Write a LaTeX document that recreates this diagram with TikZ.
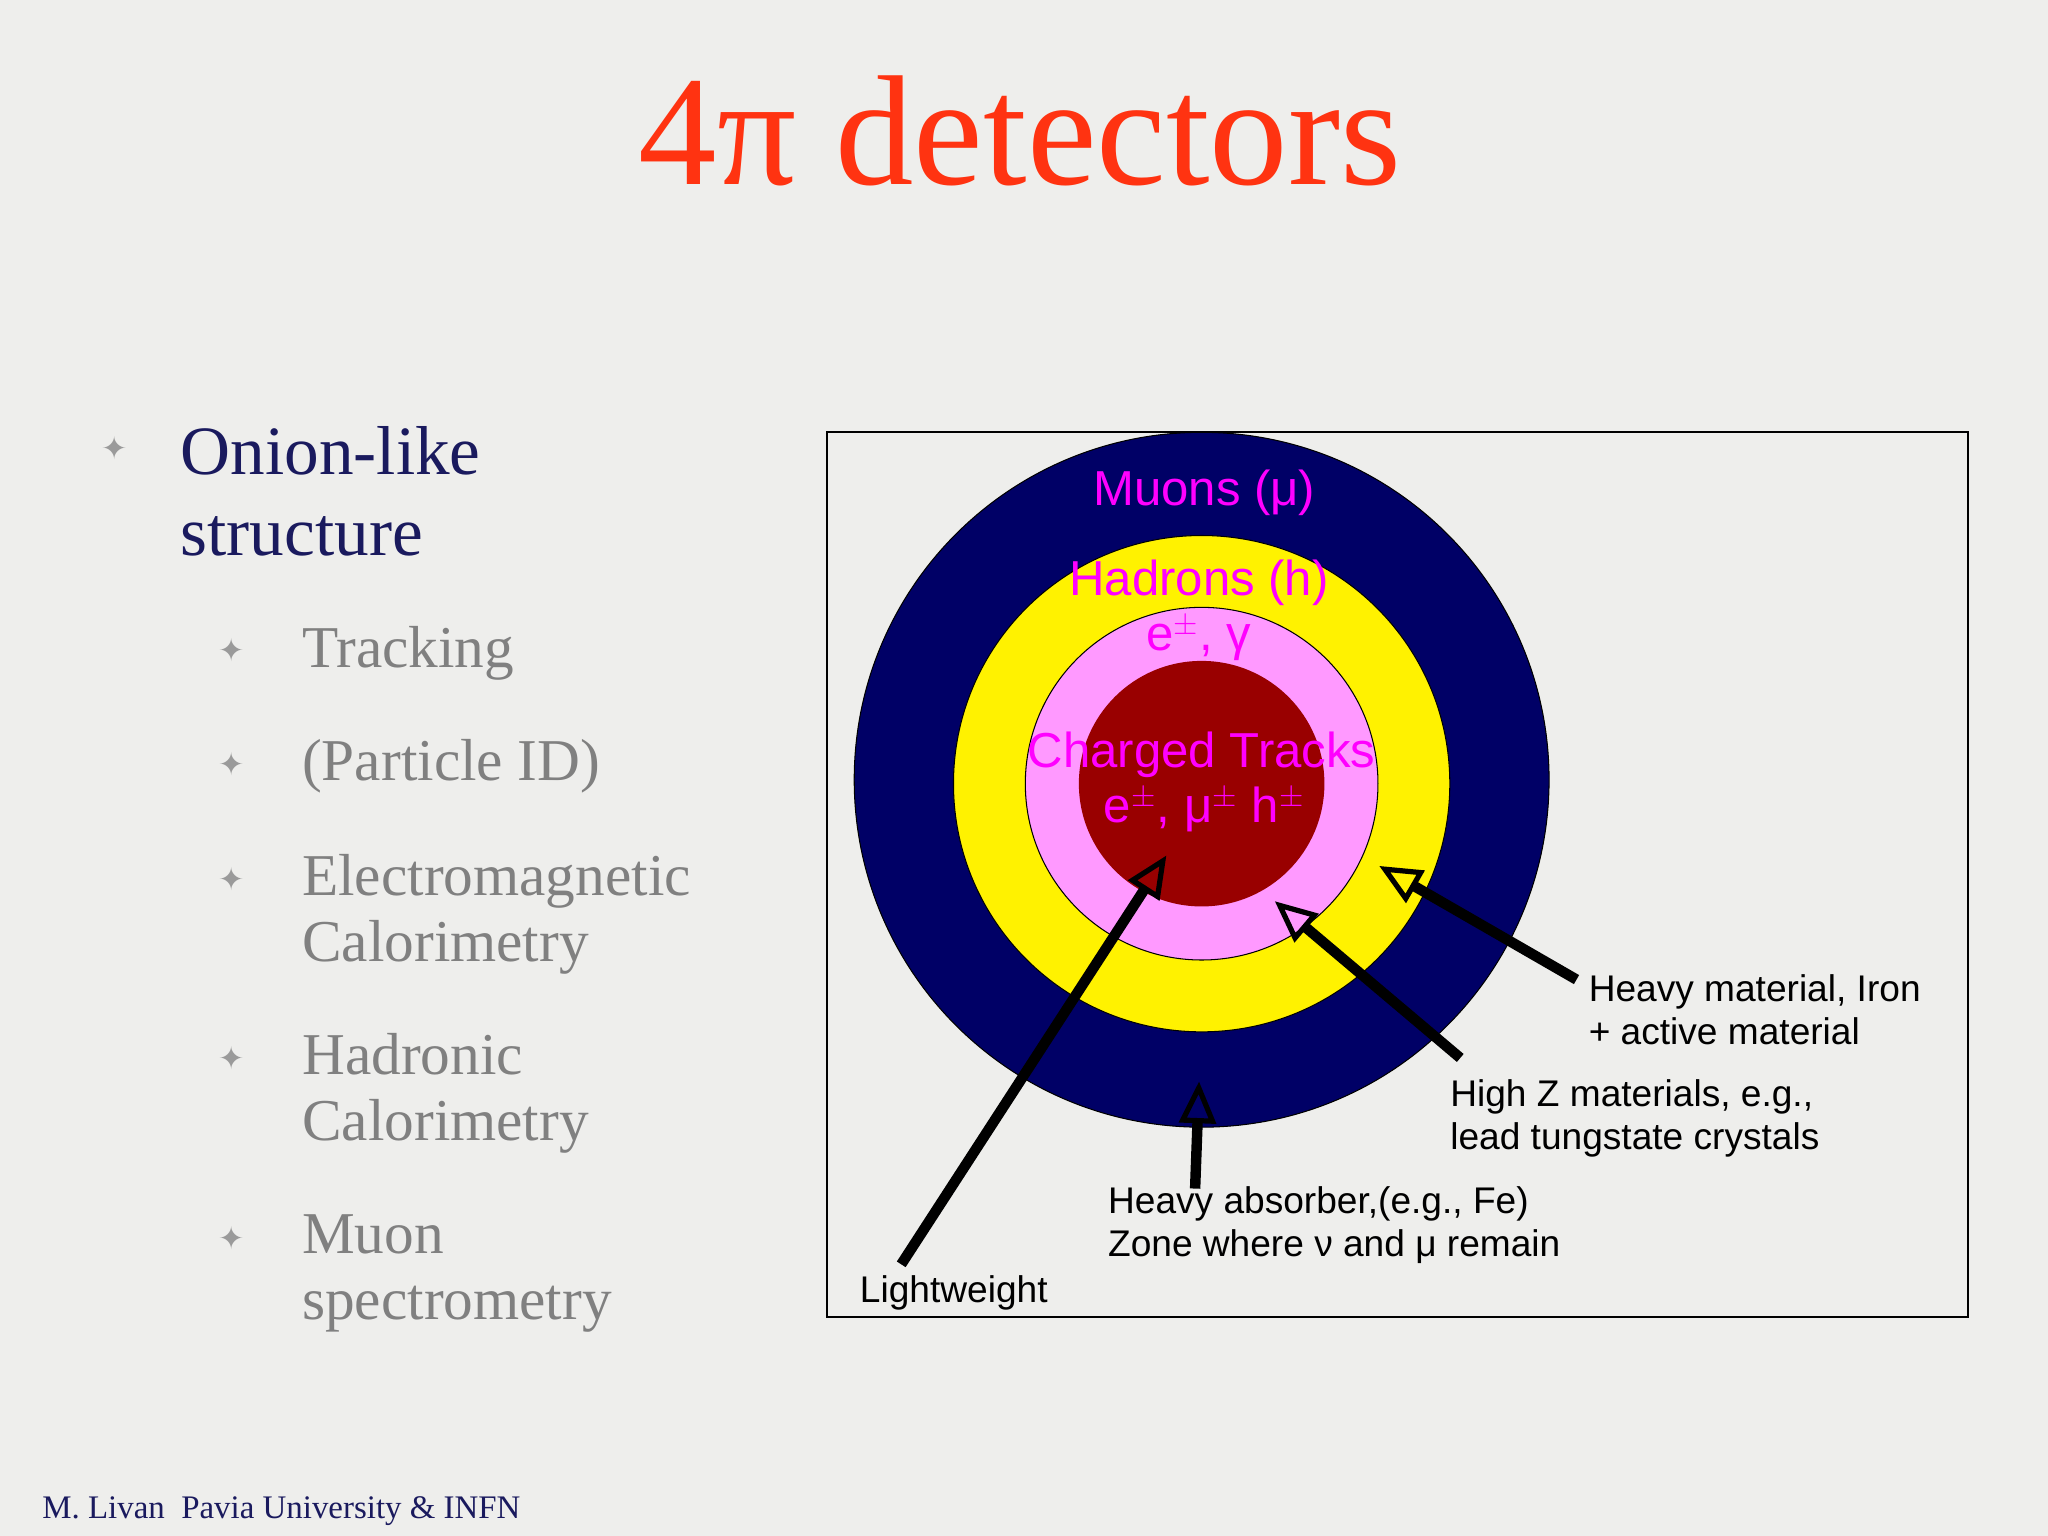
\documentclass[tikz,border=0pt]{standalone}
\usepackage{fontspec}
\setmainfont{Liberation Serif}
\newfontfamily\lab{Liberation Sans}
\newfontfamily\sym{DejaVu Sans}
\usetikzlibrary{arrows.meta}
\definecolor{bg}{HTML}{EEEEEC}
\definecolor{navyc}{HTML}{000066}
\definecolor{pinkc}{HTML}{FF99FF}
\definecolor{redc}{HTML}{990000}
\definecolor{magc}{HTML}{FF00FF}
\definecolor{titlec}{HTML}{FF3311}
\definecolor{greyc}{HTML}{808080}
\definecolor{navyt}{HTML}{1A1A5E}
\begin{document}
\begin{tikzpicture}[x=0.5pt,y=-0.5pt,
  lbl/.style={font=\lab\fontsize{14.2}{16.5}\selectfont,anchor=west,align=left,inner sep=0},
  clbl/.style={font=\lab\fontsize{18.8}{20}\selectfont,text=magc,inner sep=0},
  bul/.style={font=\sym\fontsize{12}{12}\selectfont,text=greyc!80},
  sub/.style={font=\fontsize{22.7}{25}\selectfont,text=greyc,anchor=west,align=left,inner sep=0},
  arr/.style={line width=4pt,-{Triangle[open,length=16pt,width=14pt,line width=2pt]}}]
\fill[bg] (0,0) rectangle (1568,1176);
\useasboundingbox (0,0) rectangle (1568,1176);
\node[font=\fontsize{60}{62}\selectfont,text=titlec] (title) at (781,100) {4π detectors};
\node[draw=black,line width=0.8pt,minimum width=437pt,minimum height=338.5pt,inner sep=0] (box) at (1070,669.5) {};
\fill[navyc,draw=black,line width=0.4pt] (920,597) circle (133pt);
\fill[yellow,draw=black,line width=0.4pt] (920,600) circle (95pt);
\fill[pinkc,draw=black,line width=0.4pt] (920,600) circle (67.5pt);
\fill[redc] (920,600) circle (47pt);
\node[clbl] (mu) at (922,377) {Muons (μ)};
\node[clbl] (had) at (918,446) {Hadrons (h)};
\node[clbl] (eg) at (918,489) {e$^\pm$, γ};
\node[clbl] (ct) at (920,578) {Charged Tracks};
\node[clbl] (ct2) at (922,620) {e$^\pm$, μ$^\pm$ h$^\pm$};
\coordinate (a1) at (690,968); \coordinate (b1) at (893,655);
\coordinate (a2) at (1118,810); \coordinate (b2) at (976,690);
\coordinate (a3) at (1207,750); \coordinate (b3) at (1056,663);
\coordinate (a4) at (915,910); \coordinate (b4) at (918,828);
\draw[arr] (a1) -- (b1);
\draw[arr] (a2) -- (b2);
\draw[arr] (a3) -- (b3);
\draw[arr] (a4) -- (b4);
\node[lbl] (l1) at (658,990) {Lightweight};
\node[lbl] (l2) at (848,938) {Heavy absorber,(e.g., Fe)\\Zone where ν and μ remain};
\node[lbl] (l3) at (1110,856) {High Z materials, e.g.,\\lead tungstate crystals};
\node[lbl] (l4) at (1216,773) {Heavy material, Iron\\+ active material};
\node[bul] (b0) at (88,343) {✦};
\node[font=\fontsize{26.5}{31}\selectfont,text=navyt,anchor=west,align=left,inner sep=0] (on) at (138,376) {Onion-like\\structure};
\foreach \y/\t [count=\i] in {500/Tracking,587/(Particle ID),700/Electromagnetic\\Calorimetry,837/Hadronic\\Calorimetry,975/Muon\\spectrometry}{
  \node[sub] (s\i) at (231,\y) {\t};
}
\foreach \y [count=\i] in {498,585,673,810,948}{\node[bul] (sb\i) at (177,\y) {✦};}
\node[font=\fontsize{12.6}{13}\selectfont,text=navyt,anchor=west,inner sep=0] (foot) at (32,1157) {M. Livan\ \ Pavia University \& INFN};
\end{tikzpicture}
\end{document}
